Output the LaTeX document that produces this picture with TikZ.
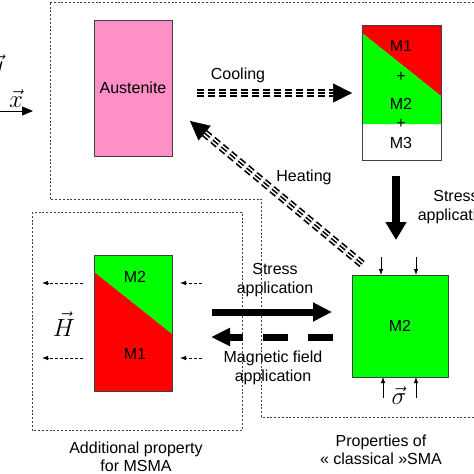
\documentclass[tikz,border=0pt]{standalone}
\usepackage{fontspec}
\setmainfont{Liberation Sans}
\usetikzlibrary{arrows.meta,calc}
\definecolor{austenitePink}{rgb}{1,0.56,0.78}
\definecolor{brightGreen}{rgb}{0,1,0}
\definecolor{brightRed}{rgb}{1,0,0}

\begin{document}
\begin{tikzpicture}[x=1pt, y=-1pt, font=\fontsize{16}{18.5}\selectfont,
  phase/.style={draw=black!75, line width=0.8pt, inner sep=0pt},
  frame/.style={draw=black!75, line width=0.9pt, dash pattern=on 2pt off 1.8pt},
  stripes/.style={line width=8pt, dash pattern=on 7pt off 4pt,
    postaction={draw=white, line width=4.6pt, dash pattern=on 7pt off 4pt},
    postaction={draw=black, line width=1.5pt, dash pattern=on 7pt off 4pt}},
  bighead/.style={line width=0.5pt, -{Triangle[length=19pt,width=19pt]}},
  small/.style={line width=0.8pt, -{Latex[length=6pt,width=4.5pt]}},
  vec/.style={font=\fontsize{24}{26}\selectfont}]
 \useasboundingbox (0,0) rectangle (474,474);
 \clip (0,0) rectangle (474,474);
 \draw[frame] (50,2) -- (480,2) -- (480,417) -- (261,417) -- (261,199) -- (50,199) -- cycle;
 \draw[frame] (32,212) rectangle (242,430);
 \node[vec] (Y) at (-3,66) {$\vec{y}$};
 \node[vec] (X) at (16,99) {$\vec{x}$};
 \coordinate (x0) at (-5,111);
 \coordinate (x1) at (33,111);
 \draw[line width=0.9pt, -{Triangle[length=11pt,width=9pt]}] (x0) -- (x1);
 \node[phase, fill=austenitePink, minimum width=78pt, minimum height=136pt] (A) at (133,88) {Austenite};
 \fill[brightRed] (362,25) -- (441,25) -- (441,96) -- (362,33) -- cycle;
 \fill[brightGreen] (362,33) -- (441,96) -- (441,124) -- (362,124) -- cycle;
 \node[phase, minimum width=79pt, minimum height=135pt] (M) at (401.5,92.5) {};
 \node (M1) at (401,46) {M1};
 \node (P1) at (401,77) {+};
 \node (M2) at (401,104) {M2};
 \node (P2) at (401,124) {+};
 \node (M3) at (401,143) {M3};
 \node[phase, fill=brightGreen, minimum width=96pt, minimum height=102pt] (S) at (400,326) {M2};
 \fill[brightGreen] (94,255) -- (172,255) -- (172,334) -- (94,272) -- cycle;
 \fill[brightRed] (94,272) -- (172,334) -- (172,391) -- (94,391) -- cycle;
 \node[phase, minimum width=78pt, minimum height=136pt] (F) at (133,323) {};
 \node (F2) at (135,277) {M2};
 \node (F1) at (135,354) {M1};
 \coordinate (c0) at (197,93);
 \coordinate (c1) at (352,93);
 \draw[stripes] (c0) -- ($(c1)!19pt!(c0)$);
 \draw[bighead] ($(c1)!19pt!(c0)$) -- (c1);
 \node (cool) at (238,75) {Cooling};
 \coordinate (h0) at (362,264);
 \coordinate (h1) at (190,121);
 \draw[stripes] (h0) -- ($(h1)!19pt!(h0)$);
 \draw[bighead] ($(h1)!19pt!(h0)$) -- (h1);
 \node (heat) at (304,177) {Heating};
 \coordinate (v0) at (396,176);
 \coordinate (v1) at (396,240);
 \draw[line width=8pt, -{Triangle[length=18pt,width=20pt]}] (v0) -- (v1);
 \node[align=center] (st1) at (456,207) {Stress\\application};
 \coordinate (s0) at (212,312);
 \coordinate (s1) at (332,312);
 \draw[line width=7pt, -{Triangle[length=19pt,width=18pt]}] (s0) -- (s1);
 \node[align=center] (st2) at (275,280) {Stress\\application};
 \coordinate (m0) at (333,337);
 \coordinate (m1) at (211,337);
 \draw[line width=7pt, dash pattern=on 25pt off 20pt, -{Triangle[length=19pt,width=17pt]}] (m0) -- (m1);
 \node[align=center] (mag) at (273,368) {Magnetic field\\application};
 \draw[small] (381,257) -- (381,275);
 \draw[small] (416,257) -- (416,275);
 \draw[small] (383,398) -- (383,377);
 \draw[small] (416,398) -- (416,377);
 \node[vec] (sig) at (399,396) {$\vec{\sigma}$};
 \draw[small, dash pattern=on 3pt off 2pt] (83,283) -- (42,283);
 \draw[small, dash pattern=on 3pt off 2pt] (83,358) -- (42,358);
 \draw[small, dash pattern=on 3pt off 2pt] (202,283) -- (180,283);
 \draw[small, dash pattern=on 3pt off 2pt] (202,358) -- (180,358);
 \node[vec] (H) at (64,324) {$\vec{H}$};
 \node[align=center] (msma) at (136,457) {Additional property\\for MSMA};
 \node[align=center] (sma) at (381,450) {Properties of\\« classical »SMA};
\end{tikzpicture}
\end{document}
